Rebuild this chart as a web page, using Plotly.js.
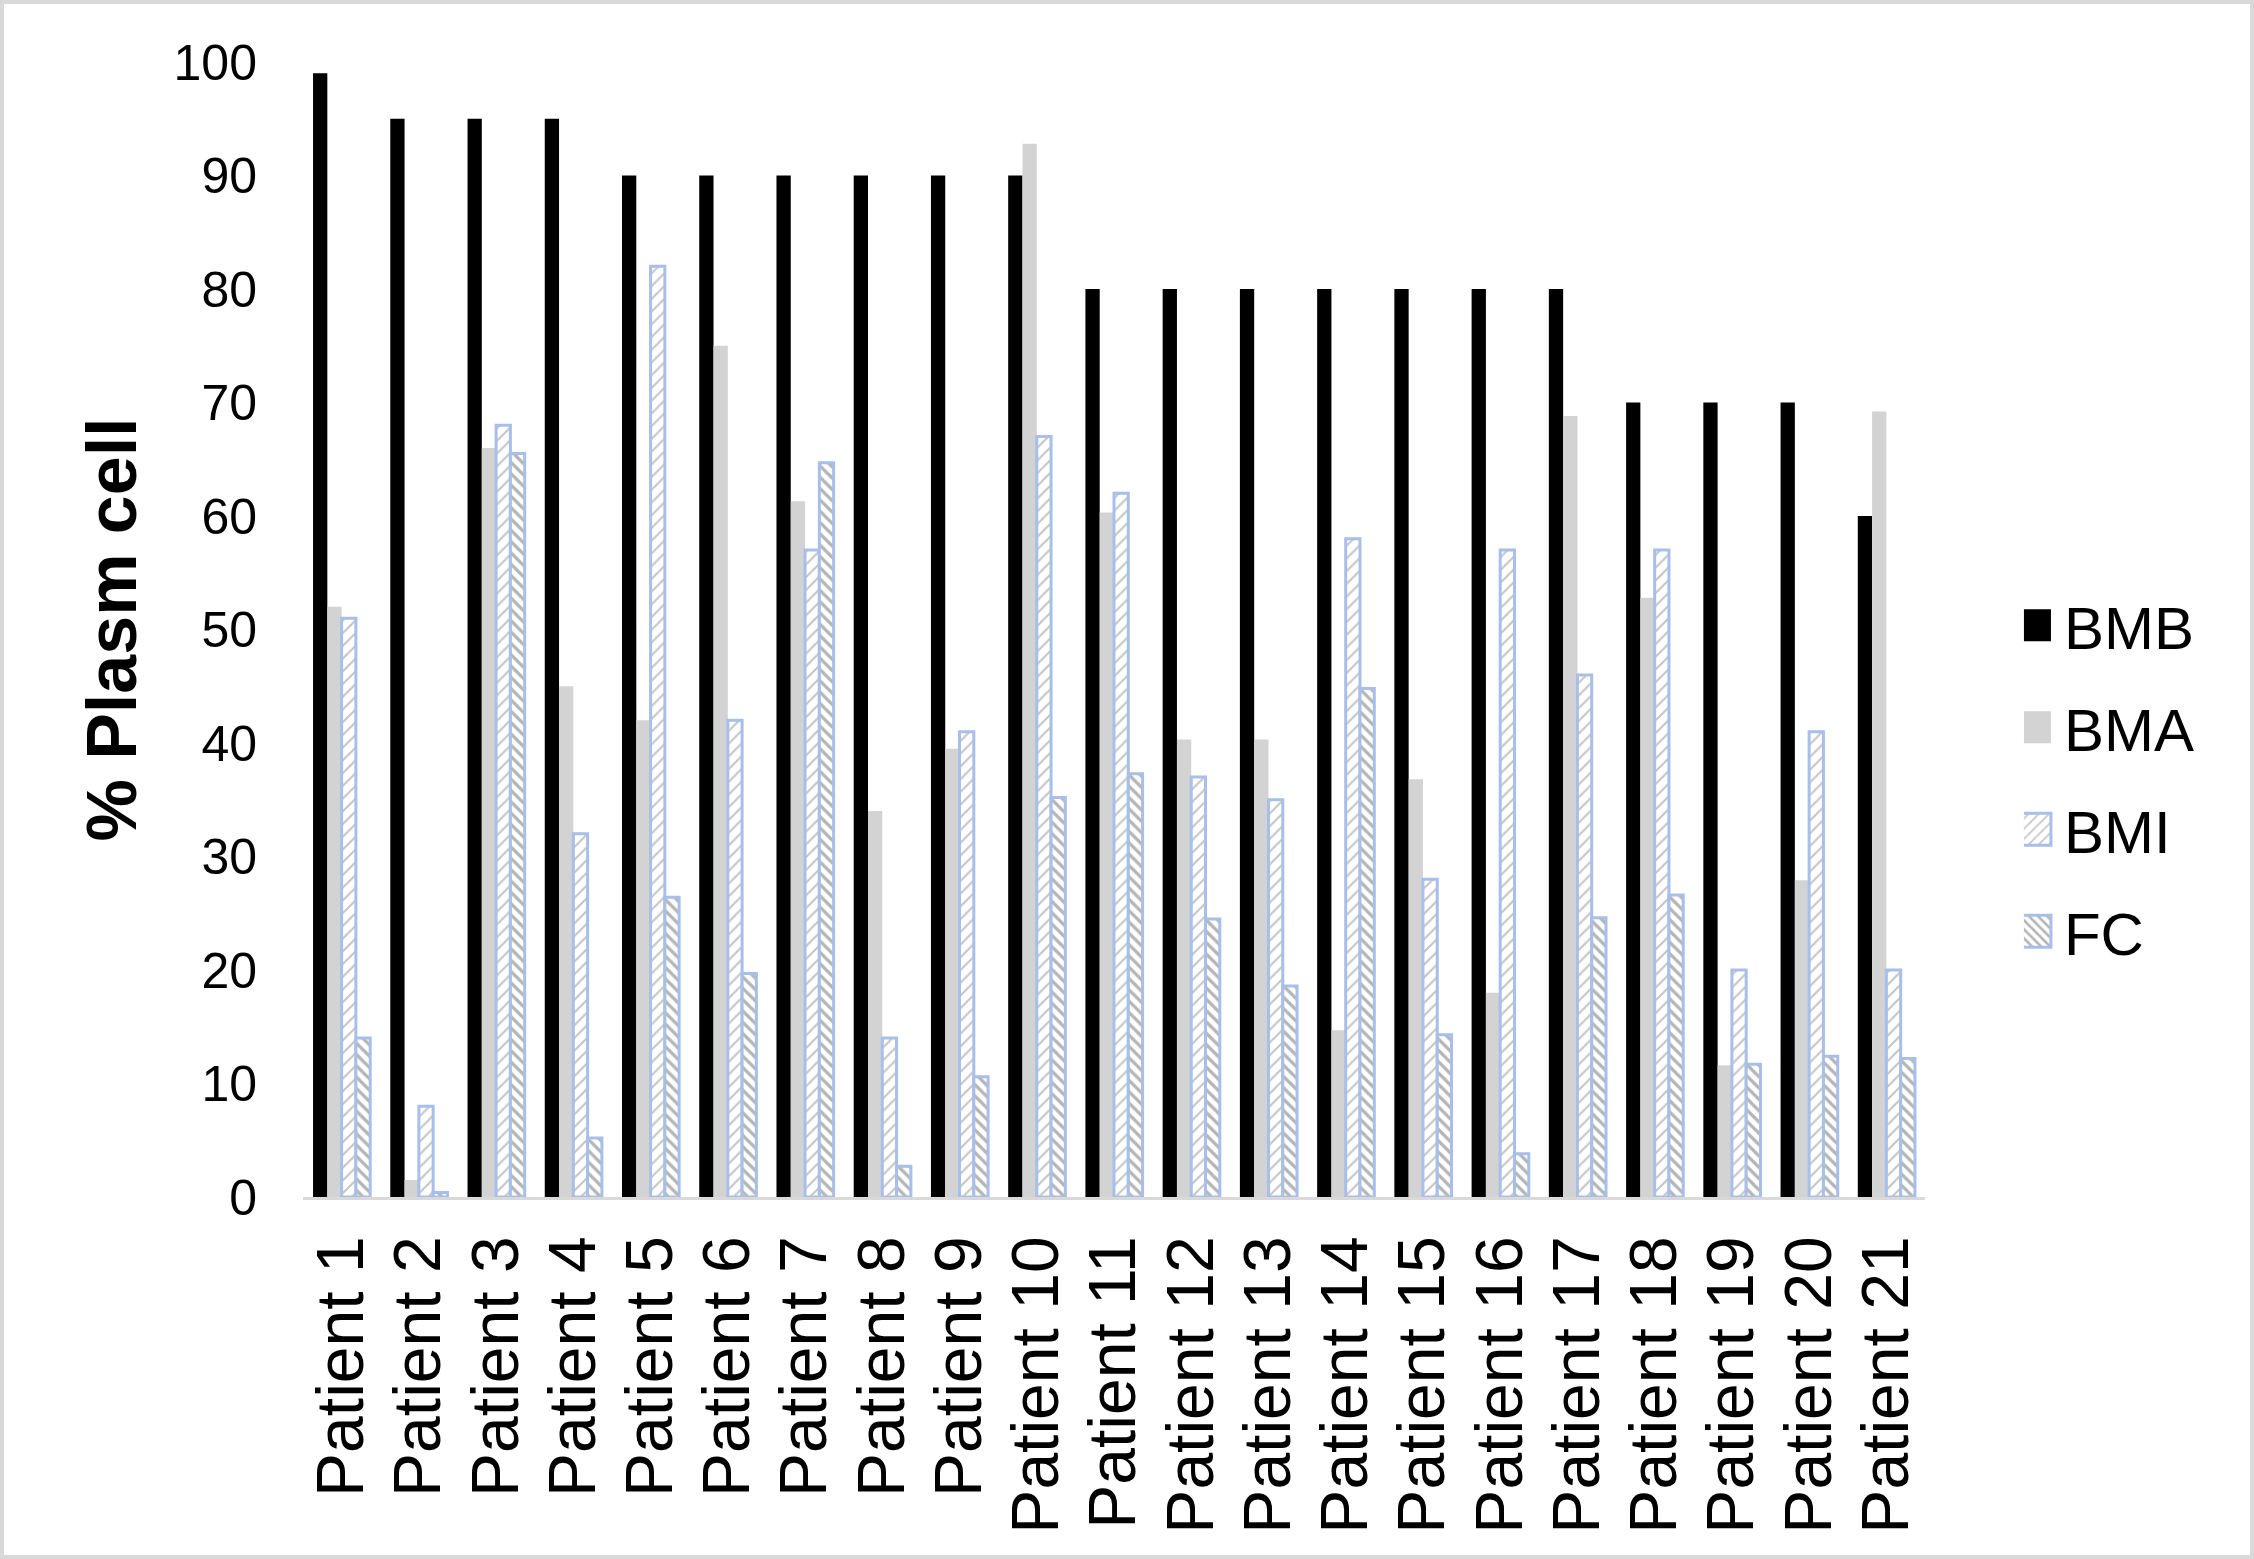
<!DOCTYPE html>
<html>
<head>
<meta charset="utf-8">
<script src="https://cdn.plot.ly/plotly-3.0.1.min.js"></script>
<style>
  html, body { margin: 0; padding: 0; background: #ffffff; overflow: hidden; }
  #wrap { position: relative; width: 2254px; height: 1559px; }
  #chart { width: 2254px; height: 1559px; }
  #frame { position: absolute; left: 0; top: 0; width: 2254px; height: 1559px; box-sizing: border-box; border: 4px solid #d9d9d9; pointer-events: none; }
</style>
</head>
<body>
<div id="wrap">
  <div id="chart"></div>
  <div id="frame"></div>
</div>
<script>
const patients = ['Patient 1','Patient 2','Patient 3','Patient 4','Patient 5','Patient 6','Patient 7',
  'Patient 8','Patient 9','Patient 10','Patient 11','Patient 12','Patient 13','Patient 14',
  'Patient 15','Patient 16','Patient 17','Patient 18','Patient 19','Patient 20','Patient 21'];
const bmb = [99, 95, 95, 95, 90, 90, 90, 90, 90, 90, 80, 80, 80, 80, 80, 80, 80, 70, 70, 70, 60];
const bma = [52, 1.5, 66, 45, 42, 75, 61.3, 34, 39.5, 92.8, 60.3, 40.3, 40.3, 14.7, 36.8, 18, 68.8, 52.8, 11.6, 27.9, 69.2];
const bmi = [51, 8, 68, 32, 82, 42, 57, 14, 41, 67, 62, 37, 35, 58, 28, 57, 46, 57, 20, 41, 20];
const fc  = [14, 0.4, 65.5, 5.2, 26.4, 19.7, 64.7, 2.7, 10.6, 35.2, 37.3, 24.5, 18.6, 44.8, 14.3, 3.8, 24.6, 26.6, 11.7, 12.4, 12.2];
const seriesNames = ['BMB', 'BMA', 'BMI', 'FC'];
const yTicks = [0, 10, 20, 30, 40, 50, 60, 70, 80, 90, 100];

const FONT = '"Liberation Sans", Arial, Helvetica, sans-serif';
const BLUE = '#a7bfe9';

const traces = [
  { type: 'bar', name: seriesNames[0], x: patients, y: bmb, legendgroup: 'a',
    marker: { color: '#000000', line: { width: 0 } } },
  { type: 'bar', name: seriesNames[1], x: patients, y: bma, legendgroup: 'b',
    marker: { color: '#d3d3d3', line: { width: 0 } } },
  { type: 'bar', name: seriesNames[2], x: patients, y: bmi, legendgroup: 'c',
    marker: { color: '#ffffff', line: { color: BLUE, width: 3 },
      pattern: { shape: '/', fgcolor: '#c4c4c4', bgcolor: '#ffffff', size: 9, solidity: 0.22 } } },
  { type: 'bar', name: seriesNames[3], x: patients, y: fc, legendgroup: 'd',
    marker: { color: '#ffffff', line: { color: BLUE, width: 3 },
      pattern: { shape: '\\', fgcolor: '#b5b5b5', bgcolor: '#ffffff', size: 8, solidity: 0.4 } } }
];

const layout = {
  width: 2254, height: 1559,
  margin: { l: 303, r: 329, t: 62, b: 362 },
  paper_bgcolor: '#ffffff', plot_bgcolor: '#ffffff',
  font: { family: FONT, color: '#000000' },
  barmode: 'group', bargap: 0.26, bargroupgap: 0,
  showlegend: true,
  legend: {
    x: 1.061, xanchor: 'left', y: 0.369, yanchor: 'middle',
    font: { family: FONT, size: 60, color: '#000000' },
    traceorder: 'grouped', tracegroupgap: 21,
    bgcolor: 'rgba(0,0,0,0)', borderwidth: 0
  },
  xaxis: {
    type: 'category', range: [-0.5, 20.5],
    tickmode: 'array', tickvals: patients, ticktext: patients,
    tickangle: -90, ticks: '', ticklabelstandoff: 10,
    tickfont: { family: FONT, size: 66, color: '#000000' },
    showline: true, linecolor: '#d9d9d9', linewidth: 3,
    showgrid: false, zeroline: false, fixedrange: true
  },
  yaxis: {
    range: [0, 100], tickvals: yTicks, ticktext: yTicks.map(String),
    ticks: '', ticklabelstandoff: 45,
    tickfont: { family: FONT, size: 50, color: '#000000' },
    showline: false, showgrid: false, zeroline: false,
    title: { text: '<b>% Plasm cell</b>', font: { family: FONT, size: 70, color: '#000000' }, standoff: 14 },
    fixedrange: true
  }
};

// enlarge the legend swatches (keeps Plotly's own centring transform)
function bigLegendSymbols() {
  document.querySelectorAll('.legend .legendpoints path').forEach(function (p) {
    p.setAttribute('d', 'M7,16H-22V-16H7Z');
  });
}

const gd = document.getElementById('chart');
Plotly.newPlot(gd, traces, layout, { displayModeBar: false, staticPlot: true }).then(function () {
  bigLegendSymbols();
  gd.on('plotly_afterplot', bigLegendSymbols);
});
</script>
</body>
</html>
